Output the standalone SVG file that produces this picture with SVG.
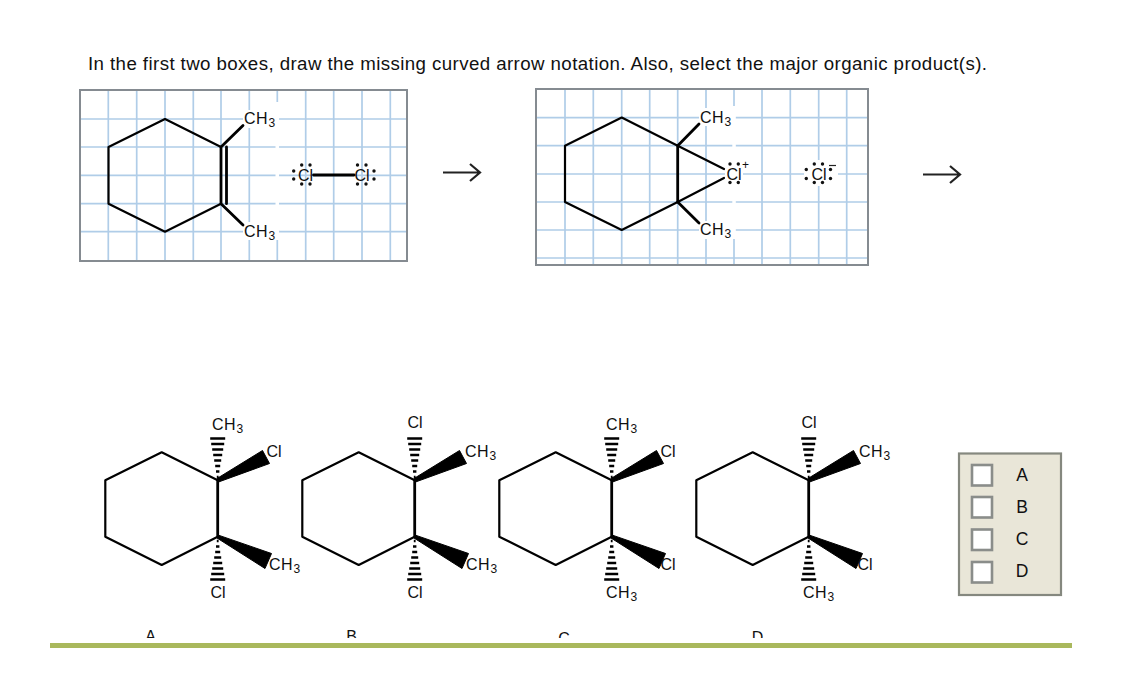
<svg xmlns="http://www.w3.org/2000/svg" width="1122" height="698" viewBox="0 0 1122 698">
<style>
text{font-family:"Liberation Sans",Arial,sans-serif;fill:#111}
.l{font-size:16px}
.ch{letter-spacing:.4px}
.sub{font-size:12px}
.title{font-size:18.7px}
.grid{stroke:#b0cde8;stroke-width:1.7;fill:none}
.frame{stroke:#858b91;stroke-width:2;fill:none}
.b{stroke:#000;stroke-width:2.2;fill:none;stroke-linejoin:round;stroke-linecap:round}
.bt{stroke:#000;stroke-width:2.8;fill:none;stroke-linecap:round}
.h{stroke:#000;stroke-width:2.3;fill:none}
.arrow{stroke:#222;stroke-width:2.2;fill:none}
.box{fill:#fff;stroke:#8a8d8a;stroke-width:2.6}
.w{stroke:#000;stroke-width:1;stroke-linejoin:round}
.opt{font-size:17.5px}
.d{fill:#111}
</style>
<defs>
<clipPath id="cut"><rect x="100" y="620" width="700" height="18"/></clipPath>
<circle id="dot" r="1.700" class="d"/>
<g id="hex">
<polyline class="b" points="217.700,480.300 161.700,452.300 105.300,480.300 105.300,536.700 161.700,565 217.700,536.700"/>
<line class="bt" x1="217.700" y1="480.300" x2="217.700" y2="536.700"/>
<path class="h" d="M210.200 438.500h15M211.200 444h13M212.200 449.500h11M213.200 455h9M214.200 460.500h7M215.200 466h5M216 471.500h3.400M216.800 477h1.800"/>
<path class="h" d="M210.200 579.500h15M211.200 574h13M212.200 568.500h11M213.200 563h9M214.200 557.500h7M215.200 552h5M216 546.500h3.400M216.800 541h1.800"/>
<polygon class="w" points="217,478.500 262.500,450.500 269.500,463.500 218.500,482"/>
<polygon class="w" points="218.500,535.200 271.500,553.500 265,568.500 217,538"/>
</g>
</defs>
<rect width="1122" height="698" fill="#fff"/>
<text class="title" x="88" y="70" textLength="899">In the first two boxes, draw the missing curved arrow notation. Also, select the major organic product(s).</text>

<g id="box1">
<path class="grid" d="M108.300 90V261M136.700 90V261M165 90V261M193.300 90V261M221 90V261M249.300 90V261M277.300 90V261M305.700 90V261M333.700 90V261M362 90V261M390.300 90V261M80 119H407M80 147H407M80 175.300H407M80 203.700H407M80 231.700H407"/>
<rect x="275.500" y="102" width="3.500" height="138" fill="#fff"/>
<rect x="243" y="110" width="34" height="18" fill="#fff"/>
<rect x="243" y="222" width="34" height="18" fill="#fff"/>
<rect class="frame" x="80" y="90" width="327" height="171"/>
</g>
<g id="cyclohexene">
<polyline class="b" points="221,147 165,119 108.500,147 108.500,203.700 165,231.700 221,203.700"/>
<path class="bt" d="M221 147V203.700M226.500 147V203.700M221 147L243 125.500M221 203.700L243 225"/>
<text class="l ch" x="244" y="124">CH<tspan class="sub" dy="3" dx=".5">3</tspan></text>
<text class="l ch" x="244" y="236.500">CH<tspan class="sub" dy="3" dx=".5">3</tspan></text>
</g>
<g id="cl2">
<line class="bt" x1="313.500" y1="175" x2="354" y2="175"/>
<text class="l" x="298" y="181">Cl</text>
<text class="l" x="354.500" y="181">Cl</text>
<use href="#dot" x="293.700" y="171"/><use href="#dot" x="293.700" y="179"/><use href="#dot" x="301.700" y="165"/><use href="#dot" x="310" y="165"/><use href="#dot" x="301.700" y="184"/><use href="#dot" x="310" y="184"/><use href="#dot" x="357.500" y="165"/><use href="#dot" x="366" y="165"/><use href="#dot" x="357.500" y="184"/><use href="#dot" x="366" y="184"/><use href="#dot" x="374" y="171"/><use href="#dot" x="374" y="179"/>
</g>

<g id="box2">
<path class="grid" d="M565 89V265M593.300 89V265M621.700 89V265M649.700 89V265M677.700 89V265M706 89V265M734 89V265M762 89V265M790.300 89V265M818.700 89V265M846.700 89V265M536 117.700H868M536 145.700H868M536 174H868M536 202H868M536 230H868M536 258H868"/>
<rect x="732.300" y="106" width="3.500" height="133" fill="#fff"/>
<rect x="699" y="108" width="34" height="18" fill="#fff"/>
<rect x="699" y="221" width="34" height="18" fill="#fff"/>
<rect x="725" y="160" width="18" height="26" fill="#fff"/>
<rect x="804" y="160" width="34" height="26" fill="#fff"/>
<rect class="frame" x="536" y="89" width="332" height="176"/>
</g>
<g id="chloronium">
<polyline class="b" points="677.700,145.700 621.700,117.500 565,145.700 565,202 621.700,230 677.700,202"/>
<path class="bt" d="M677.700 145.700V202M677.700 145.700L699 124M677.700 202L699 223"/>
<path class="b" d="M677.700 145.700L724 169M677.700 202L724 178"/>
<text class="l ch" x="700" y="122.500">CH<tspan class="sub" dy="3" dx=".5">3</tspan></text>
<text class="l ch" x="700" y="235">CH<tspan class="sub" dy="3" dx=".5">3</tspan></text>
<text class="l" x="726.500" y="179.500">Cl</text>
<text class="sub" x="742" y="168.500">+</text>
<use href="#dot" x="730" y="164"/><use href="#dot" x="738.300" y="164"/><use href="#dot" x="730" y="182.500"/><use href="#dot" x="738.300" y="182.500"/>
</g>
<g id="chloride">
<text class="l" x="811.500" y="179.500">Cl</text>
<use href="#dot" x="806.300" y="169.500"/><use href="#dot" x="806.300" y="178.500"/><use href="#dot" x="814.300" y="164"/><use href="#dot" x="822.500" y="164"/><use href="#dot" x="814.300" y="182.500"/><use href="#dot" x="822.500" y="182.500"/><use href="#dot" x="830.500" y="169.500"/><use href="#dot" x="830.500" y="178.500"/>
<line x1="829" y1="165.500" x2="836" y2="165.500" stroke="#222" stroke-width="1.200"/>
</g>

<g id="connectors">
<path class="arrow" d="M443 172.500H479M470 164L480 172.500L470 181"/>
<path class="arrow" d="M923 174.500H959M950 166L960 174.500L950 183"/>
</g>

<g id="molA"><use href="#hex"/>
<text class="l ch" x="212" y="430">CH<tspan class="sub" dy="3" dx=".5">3</tspan></text>
<text class="l" x="266.500" y="457">Cl</text>
<text class="l ch" x="269" y="570">CH<tspan class="sub" dy="3" dx=".5">3</tspan></text>
<text class="l" x="210.500" y="598">Cl</text>
</g>
<g id="molB"><use href="#hex" x="197"/>
<text class="l" x="407.500" y="428">Cl</text>
<text class="l ch" x="465" y="457">CH<tspan class="sub" dy="3" dx=".5">3</tspan></text>
<text class="l ch" x="466" y="570">CH<tspan class="sub" dy="3" dx=".5">3</tspan></text>
<text class="l" x="407.500" y="598">Cl</text>
</g>
<g id="molC"><use href="#hex" x="394"/>
<text class="l ch" x="606" y="430">CH<tspan class="sub" dy="3" dx=".5">3</tspan></text>
<text class="l" x="660.500" y="457">Cl</text>
<text class="l" x="660.500" y="570">Cl</text>
<text class="l ch" x="606" y="598">CH<tspan class="sub" dy="3" dx=".5">3</tspan></text>
</g>
<g id="molD"><use href="#hex" x="591"/>
<text class="l" x="801.500" y="428">Cl</text>
<text class="l ch" x="859" y="457">CH<tspan class="sub" dy="3" dx=".5">3</tspan></text>
<text class="l" x="857.500" y="570">Cl</text>
<text class="l ch" x="803" y="598">CH<tspan class="sub" dy="3" dx=".5">3</tspan></text>
</g>

<g id="cut-labels" clip-path="url(#cut)">
<text class="l" x="150.500" y="641.500" text-anchor="middle">A</text>
<text class="l" x="351.500" y="641.500" text-anchor="middle">B</text>
<text class="l" x="564" y="644" text-anchor="middle">C</text>
<text class="l" x="757.500" y="642.500" text-anchor="middle">D</text>
</g>

<g id="choices">
<rect x="959" y="453.500" width="102" height="141.500" fill="#e9e6d8" stroke="#85887f" stroke-width="2.200"/>
<rect class="box" x="972" y="465" width="20" height="20.500"/>
<rect class="box" x="972" y="497" width="20" height="20.500"/>
<rect class="box" x="972" y="529.500" width="20" height="20.500"/>
<rect class="box" x="972" y="562" width="20" height="20.500"/>
<text class="opt" x="1022" y="480.500" text-anchor="middle">A</text>
<text class="opt" x="1022" y="512.800" text-anchor="middle">B</text>
<text class="opt" x="1022" y="545" text-anchor="middle">C</text>
<text class="opt" x="1022" y="577.300" text-anchor="middle">D</text>
</g>
<rect id="bar" x="50" y="643" width="1022" height="5" fill="#a9b85c"/>
</svg>
